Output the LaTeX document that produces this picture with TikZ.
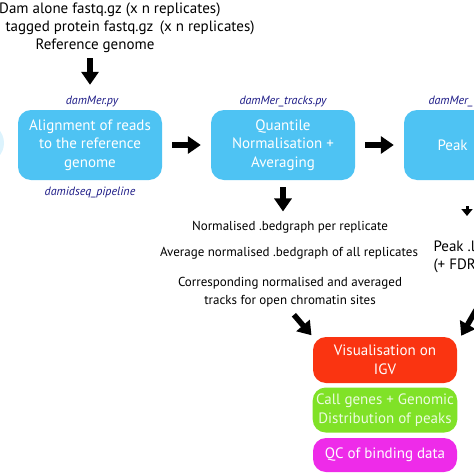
\documentclass[tikz,border=0pt]{standalone}
\usepackage{fontspec}
\setmainfont{PT Sans}
\usetikzlibrary{arrows.meta}
\definecolor{stepblue}{HTML}{4EC3F3}
\definecolor{scriptblue}{HTML}{1C1A86}
\definecolor{igvred}{HTML}{FA3411}
\definecolor{genegreen}{HTML}{80E227}
\definecolor{qcpink}{HTML}{EE2BE9}

\begin{document}
\begin{tikzpicture}[x=1pt,y=-1pt,
  stepbox/.style={fill=stepblue,rounded corners=13pt,minimum width=144pt,minimum height=70pt,text=white,align=center,font=\fontsize{15}{18.5}\selectfont},
  outbox/.style={rounded corners=13pt,minimum width=144pt,text=white,align=center,font=\fontsize{15}{18.5}\selectfont},
  script/.style={text=scriptblue,font=\itshape\fontsize{12}{14}\selectfont},
  infile/.style={font=\fontsize{15}{18}\selectfont},
  note/.style={font=\fontsize{13}{17.5}\selectfont,align=center},
  bigarrow/.style={-{Triangle[length=13pt,width=17pt]},line width=5.5pt}]
\useasboundingbox (0,0) rectangle (474,474);
\fill[stepblue!20] (-16,143) circle (20);
% inputs
\node[infile,anchor=east] (damalone) at (224,10) {Dam alone fastq.gz (x n replicates)};
\node[infile,anchor=west] (tagged) at (2,28) {tagged protein fastq.gz\, (x n replicates)};
\node[infile] (refgenome) at (95,46) {Reference genome};
% pipeline steps
\node[stepbox] (align) at (90,145) {Alignment of reads\\to the reference\\genome};
\node[stepbox] (quantile) at (283,145) {Quantile\\Normalisation +\\Averaging};
\node[stepbox] (peaks) at (476,145) {};
\node[text=white,font=\fontsize{15}{18.5}\selectfont,anchor=west] (peaklabel) at (434,145) {Peak};
\node[script] (dammer) at (92,102) {damMer.py};
\node[script] (pipeline) at (90,192) {damidseq\_pipeline};
\node[script] (tracks) at (283,102) {damMer\_tracks.py};
\node[script,anchor=west] (peakscript) at (425,102) {damMer\_};
% outputs
\node[note] (bedgraph) at (290,227) {Normalised .bedgraph per replicate};
\node[note] (average) at (289,253) {Average normalised .bedgraph of all replicates};
\node[note] (chromatin) at (290,292) {Corresponding normalised and averaged\\tracks for open chromatin sites};
\node[font=\fontsize{15}{18}\selectfont,anchor=west,align=left] (peakfile) at (430,257) {Peak .l\\(+ FDR};
\node[outbox,fill=igvred,minimum height=46pt] (igv) at (385,360) {Visualisation on\\IGV};
\node[outbox,fill=genegreen,minimum height=45pt,text=white!85!genegreen] (genes) at (385,410) {Call genes + Genomic\\Distribution of peaks};
\node[outbox,fill=qcpink,minimum height=34pt] (qc) at (385,455) {QC of binding data};
\coordinate (peakin) at (476,310);
\coordinate (peakdown) at (467,206);
% connectors
\draw[bigarrow,shorten >=25pt,shorten <=2pt] (align.north |- refgenome.south) -- (align.north);
\draw[bigarrow,shorten >=10pt,shorten <=10pt] (align) -- (quantile);
\draw[bigarrow,shorten >=10pt,shorten <=10pt] (quantile) -- (peaks);
\draw[bigarrow,shorten >=6pt,shorten <=7pt] (quantile.south) -- (quantile.south |- bedgraph.north);
\draw[-{Triangle[length=7pt,width=11pt]},line width=3pt] (peakdown) -- ++(0,10);
\draw[bigarrow,shorten <=6pt,shorten >=2pt] (chromatin.south) -- (igv.north west);
\draw[bigarrow] (peakin) -- ([xshift=4pt,yshift=1pt]igv.north east);
\end{tikzpicture}
\end{document}
